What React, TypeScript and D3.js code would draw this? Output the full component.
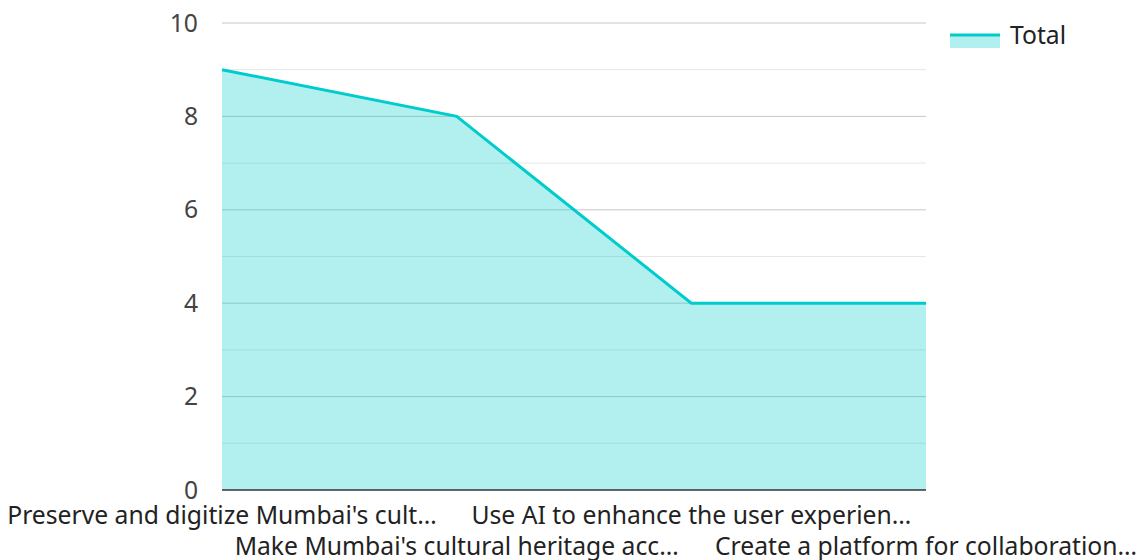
import React, { useEffect, useRef } from 'react';
import * as d3 from 'd3';

const categories = [
  "Preserve and digitize Mumbai's cult…",
  "Make Mumbai's cultural heritage acc…",
  "Use AI to enhance the user experien…",
  "Create a platform for collaboration…",
];
const totals = [9, 8, 4, 4];
const yTicks = [0, 2, 4, 6, 8, 10];
const minorTicks = [1, 3, 5, 7, 9];
const seriesName = 'Total';

const App: React.FC = () => {
  const svgRef = useRef<SVGSVGElement>(null);

  useEffect(() => {
    if (!svgRef.current) return;
    const width = 1141;
    const height = 560;
    const margin = { top: 23, right: 215, bottom: 70, left: 222 };
    const font = "'Noto Sans', sans-serif";
    const fs = 24.7;

    const svg = d3.select(svgRef.current);
    svg.selectAll('*').remove();

    const x = d3.scalePoint<string>()
      .domain(categories)
      .range([margin.left, width - margin.right]);

    const y = d3.scaleLinear()
      .domain([0, 10])
      .range([height - margin.bottom, margin.top]);

    // Grid
    const grid = svg.append('g');
    minorTicks.forEach(t => {
      grid.append('line')
        .attr('x1', margin.left).attr('x2', width - margin.right)
        .attr('y1', y(t)).attr('y2', y(t))
        .attr('stroke', '#e6e6e6').attr('stroke-width', 1);
    });
    yTicks.filter(t => t !== 0).forEach(t => {
      grid.append('line')
        .attr('x1', margin.left).attr('x2', width - margin.right)
        .attr('y1', y(t)).attr('y2', y(t))
        .attr('stroke', '#c8c8c8').attr('stroke-width', 1);
    });

    // Area + line
    const pts = categories.map((c, i) => ({ c, v: totals[i] }));
    const area = d3.area<{ c: string; v: number }>()
      .x(d => x(d.c) as number)
      .y0(y(0))
      .y1(d => y(d.v));
    const line = d3.line<{ c: string; v: number }>()
      .x(d => x(d.c) as number)
      .y(d => y(d.v));

    svg.append('path')
      .datum(pts)
      .attr('d', area)
      .attr('fill', 'rgba(0,204,204,0.3)');

    svg.append('path')
      .datum(pts)
      .attr('d', line)
      .attr('fill', 'none')
      .attr('stroke', '#00cccc')
      .attr('stroke-width', 3);

    // X axis line
    svg.append('line')
      .attr('x1', margin.left).attr('x2', width - margin.right)
      .attr('y1', y(0)).attr('y2', y(0))
      .attr('stroke', '#333').attr('stroke-width', 1.5);

    // Y labels
    yTicks.forEach(t => {
      svg.append('text')
        .attr('x', 198)
        .attr('y', y(t))
        .attr('dy', '0.35em')
        .attr('text-anchor', 'end')
        .attr('font-family', font)
        .attr('font-size', fs)
        .attr('fill', '#444')
        .text(t);
    });

    // X labels, staggered in two rows
    categories.forEach((c, i) => {
      svg.append('text')
        .attr('x', x(c) as number)
        .attr('y', i % 2 === 0 ? 515 : 546)
        .attr('dy', '0.35em')
        .attr('text-anchor', 'middle')
        .attr('font-family', font)
        .attr('font-size', fs)
        .attr('fill', '#222')
        .text(c);
    });

    // Legend
    const lg = svg.append('g').attr('transform', 'translate(950,35)');
    lg.append('rect').attr('x', 0).attr('y', 0).attr('width', 50).attr('height', 13)
      .attr('fill', 'rgba(0,204,204,0.3)');
    lg.append('line').attr('x1', 0).attr('x2', 50).attr('y1', 0).attr('y2', 0)
      .attr('stroke', '#00cccc').attr('stroke-width', 3);
    lg.append('text')
      .attr('x', 60).attr('y', 0).attr('dy', '0.35em')
      .attr('font-family', font).attr('font-size', fs).attr('fill', '#222')
      .text(seriesName);
  }, []);

  return (
    <svg ref={svgRef} width={1141} height={560}
      style={{ position: 'absolute', left: 0, top: 0, background: '#fff' }} />
  );
};

export default App;
